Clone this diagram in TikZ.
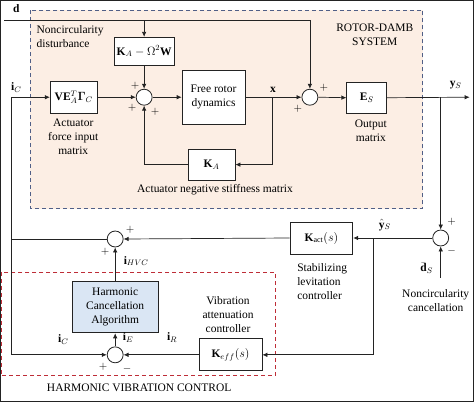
\documentclass[tikz,border=0pt]{standalone}
\usepackage{fontspec}
\setmainfont{Liberation Serif}
\usepackage{amsmath}
\usepackage{bm}
\usetikzlibrary{arrows.meta}
\definecolor{peach}{RGB}{252,238,228}
\definecolor{sysblue}{RGB}{80,95,135}
\definecolor{hvcred}{RGB}{190,45,55}
\definecolor{hcablue}{RGB}{218,230,244}
\definecolor{ln}{RGB}{35,35,35}
\begin{document}
\begin{tikzpicture}[x=1pt,y=-1pt,
  font=\fontsize{11.5}{14}\selectfont,
  every path/.style={line width=0.7pt, draw=ln},
  blk/.style={draw=ln, fill=white, line width=0.8pt, inner sep=0pt, align=center},
  sumj/.style={circle, draw=ln, fill=white, line width=0.8pt, minimum size=16pt, inner sep=0pt},
  arr/.style={-{Latex[length=5pt,width=4.5pt]}},
  lbl/.style={inner sep=0pt, align=center},
  sg/.style={inner sep=0pt, font=\fontsize{11}{12}\selectfont}]
\useasboundingbox (0,0) rectangle (474,402);
% system box
\fill[peach] (30,10) rectangle (423,208);
\draw[sysblue, dash pattern=on 4pt off 3pt, line width=0.8pt] (30,10) rectangle (423,208);
% HVC box
\draw[hvcred, dash pattern=on 4pt off 3pt, line width=0.8pt] (1,272) rectangle (275,376);

% blocks
\node[blk, minimum width=60pt, minimum height=28pt] (kaw) at (144,51) {$\mathbf{K}_A-\Omega^2\mathbf{W}$};
\node[blk, minimum width=47pt, minimum height=32pt] (ve) at (73.5,97) {$\mathbf{V}\mathbf{E}_A^T\bm{\Gamma}_C$};
\node[sumj] (s1) at (144,97) {};
\node[blk, minimum width=63pt, minimum height=54pt] (fr) at (213.5,97) {Free rotor\\dynamics};
\node[blk, minimum width=47pt, minimum height=31pt] (ka) at (211.5,164.5) {$\mathbf{K}_A$};
\node[sumj] (s2) at (310,97) {};
\node[blk, minimum width=40pt, minimum height=31pt] (es) at (367,97.5) {$\mathbf{E}_S$};
\node[sumj] (s5) at (441,238) {};
\node[blk, minimum width=63pt, minimum height=32pt] (kact) at (321.5,238) {$\mathbf{K}_{\mathrm{act}}(s)$};
\node[sumj] (s3) at (115,239) {};
\node[blk, fill=hcablue, minimum width=86pt, minimum height=52pt] (hca) at (115,307) {Harmonic\\Cancellation\\Algorithm};
\node[sumj] (s4) at (115,355) {};
\node[blk, minimum width=63pt, minimum height=32pt] (keff) at (230.5,355) {$\mathbf{K}_{eff}(s)$};

% coordinates
\coordinate (dstart) at (4,20);
\coordinate (dj) at (144,20);
\coordinate (dend) at (310,20);
\coordinate (xj) at (272,97);
\coordinate (xd) at (272,164.5);
\coordinate (kal) at (144,164.5);
\coordinate (yj) at (441,97);
\coordinate (yend) at (470,97);
\coordinate (dbar) at (441,278);
\coordinate (yhj) at (374,238);
\coordinate (yhd) at (374,355);
\coordinate (icm) at (11,239);
\coordinate (ict) at (11,97);
\coordinate (icb) at (11,355);

% connectors
\draw (dstart) -- (dend);
\draw[arr] (dend) -- (s2.north);
\draw[arr] (dj) -- (kaw.north);
\draw[arr] (kaw.south) -- (s1.north);
\draw[arr] (ve.east) -- (s1.west);
\draw[arr] (s1.east) -- (fr.west);
\draw[arr] (fr.east) -- (s2.west);
\draw[arr] (xj) -- (xd) -- (ka.east);
\draw[arr] (ka.west) -- (kal) -- (s1.south);
\draw[arr] (s2.east) -- (es.west);
\draw[arr] (es.east) -- (yend);
\draw[arr] (yj) -- (s5.north);
\draw[arr] (dbar) -- (s5.south);
\draw[arr] (s5.west) -- (kact.east);
\draw[arr] (yhj) -- (yhd) -- (keff.east);
\draw[arr] (kact.west) -- (s3.east);
\draw[arr] (s3.west) -- (icm) -- (ict) -- (ve.west);
\draw[arr] (icm) -- (icb) -- (s4.west);
\draw[arr] (hca.north) -- (s3.south);
\draw[arr] (s4.north) -- (hca.south);
\draw[arr] (keff.west) -- (s4.east);

% labels
\node[lbl] (ld) at (16,8) {$\mathbf{d}$};
\node[lbl, align=left, anchor=west] (lnd) at (36,36) {Noncircularity\\disturbance};
\node[lbl] (lsys) at (375,34) {ROTOR-DAMB\\SYSTEM};
\node[lbl] (lve) at (73,137) {Actuator\\force input\\matrix};
\node[lbl] (lka) at (215,190) {Actuator negative stiffness matrix};
\node[lbl] (les) at (371,131) {Output\\matrix};
\node[lbl] (lx) at (273,90) {$\mathbf{x}$};
\node[lbl] (ly) at (456,85) {$\mathbf{y}_S$};
\node[lbl] (lic) at (16,87) {$\mathbf{i}_C$};
\node[sg] at (135,86) {$+$};
\node[sg] at (132,108) {$+$};
\node[sg] at (155,112) {$+$};
\node[sg] at (324,88) {$+$};
\node[sg] at (298,109) {$+$};
\node[sg] at (452,222) {$+$};
\node[sg] at (452,251) {$-$};
\node[lbl] (lyh) at (385,225) {$\hat{\mathbf{y}}_S$};
\node[lbl] (ldb) at (427,268) {$\bar{\mathbf{d}}_S$};
\node[lbl] (lnc) at (436,301) {Noncircularity\\cancellation};
\node[lbl, align=left, anchor=west] (lsl) at (297,282) {Stabilizing\\levitation\\controller};
\node[sg] at (130,230) {$+$};
\node[sg] at (105,252) {$+$};
\node[lbl] (lhvc) at (136,261) {$\mathbf{i}_{HVC}$};
\node[lbl] (lie) at (128,338) {$\mathbf{i}_E$};
\node[lbl] (lic2) at (63,340) {$\mathbf{i}_C$};
\node[lbl] (lir) at (172,338) {$\mathbf{i}_R$};
\node[sg] at (103,367) {$+$};
\node[sg] at (127,369) {$-$};
\node[lbl] (lvac) at (228,315) {Vibration\\attenuation\\controller};
\node[lbl] (lhvcc) at (139,388) {HARMONIC VIBRATION CONTROL};
\end{tikzpicture}
\end{document}
